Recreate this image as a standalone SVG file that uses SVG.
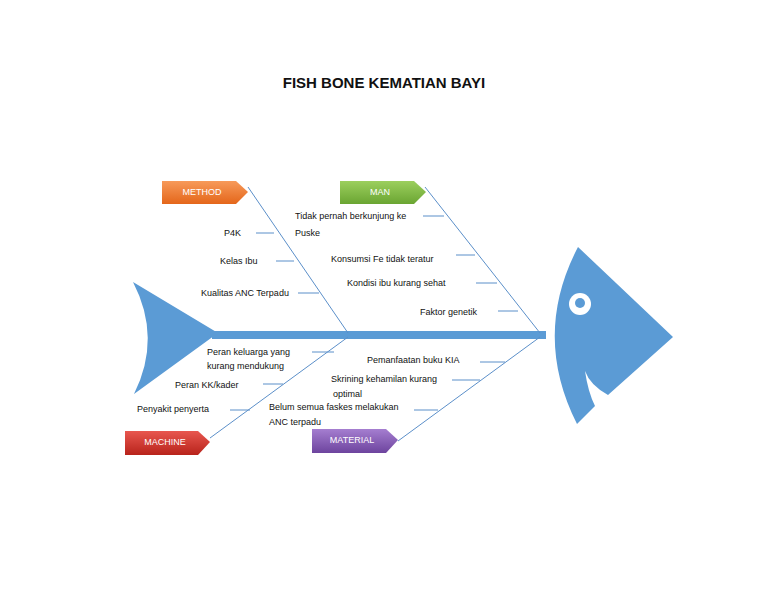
<svg xmlns="http://www.w3.org/2000/svg" width="768" height="594" viewBox="0 0 768 594">
<defs>
<linearGradient id="go" x1="0" y1="0" x2="0" y2="1"><stop offset="0" stop-color="#f79a5a"/><stop offset="1" stop-color="#e4661a"/></linearGradient>
<linearGradient id="gg" x1="0" y1="0" x2="0" y2="1"><stop offset="0" stop-color="#9ccf5e"/><stop offset="1" stop-color="#6aa532"/></linearGradient>
<linearGradient id="gr" x1="0" y1="0" x2="0" y2="1"><stop offset="0" stop-color="#e8574f"/><stop offset="1" stop-color="#b8231b"/></linearGradient>
<linearGradient id="gp" x1="0" y1="0" x2="0" y2="1"><stop offset="0" stop-color="#a57ed0"/><stop offset="1" stop-color="#6d449e"/></linearGradient>
</defs>
<style>
text{font-family:"Liberation Sans",Arial,sans-serif;font-size:9px;fill:#111}
.bone{stroke:#5b8fc9;stroke-width:1;fill:none}
.lbl{fill:#fff;font-size:9px;text-anchor:middle}
.fish{fill:#5b9bd5}
</style>
<rect width="768" height="594" fill="#fff"/>
<text x="384" y="88" text-anchor="middle" style="font-size:15px;font-weight:bold">FISH BONE KEMATIAN BAYI</text>
<g id="fish">
<path class="fish" d="M133,282 L218,333 L134,394 Q162,338 133,282 Z"/>
<rect class="fish" x="212" y="331" width="334" height="8"/>
<path class="fish" d="M578,247 L673,337 L608,395 Q590,385 585,371 Q588,392 595,406 L577,424 Q532,335 578,247 Z"/>
<circle cx="580" cy="304" r="11" fill="#fff"/>
<circle cx="580" cy="303" r="5" class="fish"/>
</g>
<g id="connectors" class="bone">
<line x1="248" y1="187" x2="348" y2="333"/>
<line x1="425" y1="187" x2="540" y2="333"/>
<line x1="210" y1="438" x2="348" y2="337"/>
<line x1="398" y1="441" x2="540" y2="337"/>
<line x1="256" y1="233" x2="274" y2="233"/>
<line x1="276" y1="261" x2="294" y2="261"/>
<line x1="298" y1="293" x2="319" y2="293"/>
<line x1="423" y1="216" x2="444" y2="216"/>
<line x1="456" y1="255" x2="475" y2="255"/>
<line x1="476" y1="283" x2="497" y2="283"/>
<line x1="498" y1="311" x2="518" y2="311"/>
<line x1="312" y1="352" x2="334" y2="352"/>
<line x1="263" y1="384" x2="283" y2="384"/>
<line x1="230" y1="410" x2="250" y2="410"/>
<line x1="480" y1="362" x2="505" y2="362"/>
<line x1="452" y1="380" x2="480" y2="380"/>
<line x1="414" y1="410" x2="438" y2="410"/>
</g>
<g id="method"><path d="M162,181 H236 L248,192 L236,204 H162 Z" fill="url(#go)"/><text class="lbl" x="202" y="195">METHOD</text></g>
<g id="man"><path d="M340,181 H414 L426,192 L414,204 H340 Z" fill="url(#gg)"/><text class="lbl" x="380" y="195">MAN</text></g>
<g id="machine"><path d="M125,431 H198 L210,442 L198,455 H125 Z" fill="url(#gr)"/><text class="lbl" x="165" y="445">MACHINE</text></g>
<g id="material"><path d="M312,429 H386 L398,440 L386,453 H312 Z" fill="url(#gp)"/><text class="lbl" x="352" y="443">MATERIAL</text></g>
<g id="causes">
<text x="224" y="236">P4K</text>
<text x="220" y="264">Kelas Ibu</text>
<text x="201" y="296">Kualitas ANC Terpadu</text>
<text x="295" y="219">Tidak pernah berkunjung ke</text>
<text x="295" y="236">Puske</text>
<text x="331" y="262">Konsumsi Fe tidak teratur</text>
<text x="347" y="286">Kondisi ibu kurang sehat</text>
<text x="420" y="315">Faktor genetik</text>
<text x="207" y="355">Peran keluarga yang</text>
<text x="207" y="369">kurang mendukung</text>
<text x="175" y="388">Peran KK/kader</text>
<text x="137" y="412">Penyakit penyerta</text>
<text x="367" y="363">Pemanfaatan buku KIA</text>
<text x="331" y="382">Skrining kehamilan kurang</text>
<text x="333" y="397">optimal</text>
<text x="269" y="410">Belum semua faskes melakukan</text>
<text x="269" y="425">ANC terpadu</text>
</g>
</svg>
